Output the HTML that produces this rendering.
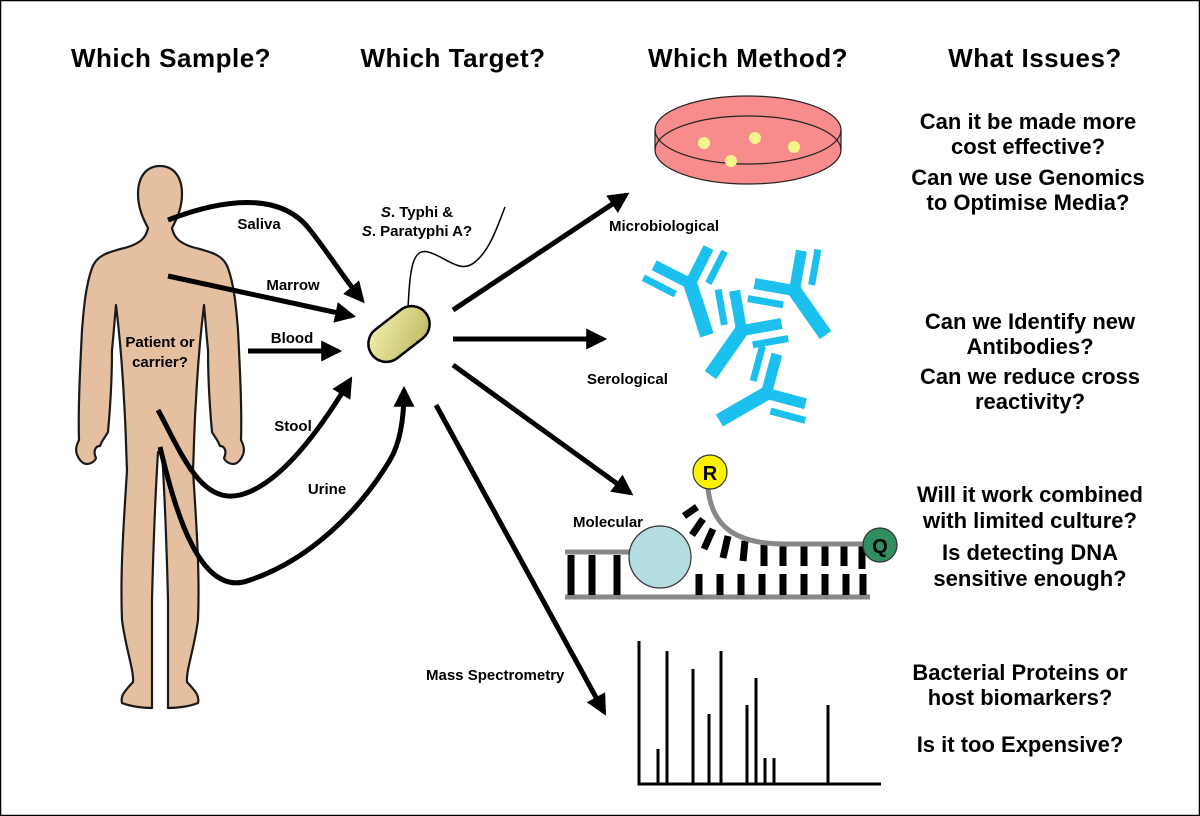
<!DOCTYPE html>
<html><head><meta charset="utf-8"><style>
html,body{margin:0;padding:0;background:#fff}
svg{display:block}
text{font-family:"Liberation Sans",Arial,sans-serif;font-weight:bold;fill:#000}
</style></head><body>
<svg width="1200" height="816" viewBox="0 0 1200 816" xmlns="http://www.w3.org/2000/svg">
<defs>
<marker id="ah" viewBox="0 0 10 10" refX="8" refY="5" markerWidth="4.2" markerHeight="4.2" orient="auto" markerUnits="strokeWidth"><path d="M0,0 L10,5 L0,10 z" fill="#000"/></marker>
<linearGradient id="bg" x1="0" y1="0" x2="1" y2="1"><stop offset="0" stop-color="#f2f0b0"/><stop offset="1" stop-color="#bdb860"/></linearGradient>
<g id="ab"><rect x="-7" y="0" width="14" height="55"/><g transform="rotate(-45)"><rect x="-6" y="-40" width="11" height="44"/><rect x="-20" y="-44" width="7" height="36"/></g><g transform="rotate(45)"><rect x="-5" y="-40" width="11" height="44"/><rect x="13" y="-44" width="7" height="36"/></g></g>
</defs>
<rect x="0.5" y="0.5" width="1199" height="815" fill="#fff" stroke="#000" stroke-width="1.5"/>
<g font-size="26" letter-spacing="0.5">
<text x="171" y="67" text-anchor="middle">Which Sample?</text>
<text x="453" y="67" text-anchor="middle">Which Target?</text>
<text x="748" y="67" text-anchor="middle">Which Method?</text>
<text x="1035" y="67" text-anchor="middle">What Issues?</text>
</g>
<!-- body -->
<path d="M160,166 C147,166 138,176 138,194 C138,210 145,222 148,228 C146,238 140,243 128,247 C110,252 97,254 92,268 C86,285 84,305 82,330 C80,370 78,410 79,440 C76,446 74,452 80,460 C86,468 95,462 96,458 C93,452 95,446 100,446 C102,440 106,436 108,432 C110,410 112,380 112,350 C114,330 115,315 116,305 C119,330 122,360 124,400 C126,430 126,450 127,470 C124,520 120,570 122,620 C126,650 134,670 133,682 C126,690 120,695 122,703 C132,707 145,708 152,708 L152,600 C153,560 155,500 158,452 L162,452 C165,500 167,560 168,600 L168,708 C175,708 188,707 198,703 C200,695 194,690 187,682 C186,670 194,650 198,620 C200,570 196,520 193,470 C194,450 194,430 196,400 C198,360 201,330 204,305 C205,315 206,330 208,350 C208,380 210,410 212,432 C214,436 218,440 220,446 C225,446 227,452 224,458 C225,462 234,468 240,460 C246,452 244,446 241,440 C242,410 240,370 238,330 C236,305 234,285 228,268 C223,254 210,252 192,247 C180,243 174,238 172,228 C175,222 182,210 182,194 C182,176 173,166 160,166 Z" fill="#e4c0a0" stroke="#1a1a1a" stroke-width="2.2" stroke-linejoin="round"/>
<g font-size="15" text-anchor="middle">
<text x="160" y="347">Patient or</text>
<text x="160" y="367">carrier?</text>
<text x="259" y="229">Saliva</text>
<text x="293" y="290">Marrow</text>
<text x="292" y="343">Blood</text>
<text x="293" y="431">Stool</text>
<text x="327" y="494">Urine</text>
</g>
<!-- incoming arrows -->
<g fill="none" stroke="#000" stroke-width="5">
<path d="M168,220 C220,200 280,190 310,230 C330,255 345,280 362,300" marker-end="url(#ah)"/>
<path d="M168,276 L352,316" marker-end="url(#ah)"/>
<path d="M248,351 L338,351" marker-end="url(#ah)"/>
<path d="M158,410 C180,450 200,505 240,495 C280,485 320,430 350,380" marker-end="url(#ah)"/>
<path d="M160,447 C175,510 200,600 250,580 C310,560 360,510 390,460 C402,440 404,410 404,390" marker-end="url(#ah)"/>
</g>
<!-- bacterium -->
<path d="M408,308 C410,270 412,248 428,252 C445,256 460,275 475,262 C490,250 498,225 505,207" fill="none" stroke="#000" stroke-width="1.5"/>
<rect x="365" y="316" width="68" height="36" rx="18" transform="rotate(-38 399 334)" fill="url(#bg)" stroke="#000" stroke-width="2.5"/>
<g font-size="15" text-anchor="middle">
<text x="417" y="217"><tspan font-style="italic">S</tspan>. Typhi &amp;</text>
<text x="417" y="236"><tspan font-style="italic">S</tspan>. Paratyphi A?</text>
</g>
<!-- outgoing arrows -->
<g fill="none" stroke="#000" stroke-width="5">
<path d="M453,310 L626,195" marker-end="url(#ah)"/>
<path d="M453,339 L603,339" marker-end="url(#ah)"/>
<path d="M453,365 L630,493" marker-end="url(#ah)"/>
<path d="M436,405 L604,712" marker-end="url(#ah)"/>
</g>
<g font-size="15">
<text x="609" y="231">Microbiological</text>
<text x="587" y="384">Serological</text>
<text x="573" y="527">Molecular</text>
<text x="426" y="680">Mass Spectrometry</text>
</g>
<!-- petri dish -->
<path d="M655,130 A93,34 0 0 1 841,130 L841,150 A93,34 0 0 1 655,150 Z" fill="#f88c8c"/>
<ellipse cx="748" cy="130" rx="93" ry="34" fill="none" stroke="#222" stroke-width="1.2"/>
<ellipse cx="748" cy="150" rx="93" ry="34" fill="none" stroke="#222" stroke-width="1.2"/>
<path d="M655,130 L655,150 M841,130 L841,150" stroke="#222" stroke-width="1.2"/>
<g fill="#f6f48a"><circle cx="704" cy="143" r="6"/><circle cx="755" cy="138" r="6"/><circle cx="794" cy="147" r="6"/><circle cx="731" cy="161" r="6"/></g>
<!-- antibodies -->
<g fill="#1cc0ee">
<use href="#ab" transform="translate(690,283) rotate(-18)"/>
<use href="#ab" transform="translate(794,290) rotate(-35)"/>
<use href="#ab" transform="translate(742,330) rotate(35)"/>
<use href="#ab" transform="translate(767,393) rotate(60)"/>
</g>
<!-- DNA -->
<line x1="565" y1="597" x2="870" y2="597" stroke="#888" stroke-width="5"/>
<line x1="565" y1="552" x2="640" y2="552" stroke="#888" stroke-width="5"/>
<g stroke="#000" stroke-width="7">
<line x1="571" y1="555" x2="571" y2="595"/><line x1="592" y1="555" x2="592" y2="595"/><line x1="617" y1="555" x2="617" y2="595"/>
<line x1="699" y1="574" x2="699" y2="595"/><line x1="720" y1="574" x2="720" y2="595"/><line x1="741" y1="574" x2="741" y2="595"/><line x1="762" y1="574" x2="762" y2="595"/><line x1="783" y1="574" x2="783" y2="595"/><line x1="804" y1="574" x2="804" y2="595"/><line x1="825" y1="574" x2="825" y2="595"/><line x1="846" y1="574" x2="846" y2="595"/><line x1="863" y1="574" x2="863" y2="595"/>
<line x1="764" y1="545" x2="764" y2="566"/><line x1="783" y1="545" x2="783" y2="566"/><line x1="804" y1="545" x2="804" y2="566"/><line x1="825" y1="545" x2="825" y2="566"/><line x1="844" y1="545" x2="844" y2="566"/><line x1="862" y1="545" x2="862" y2="569"/>
<line x1="745" y1="541" x2="743" y2="561"/><line x1="728" y1="536" x2="723" y2="558"/><line x1="713" y1="529" x2="704" y2="549"/><line x1="703" y1="519" x2="692" y2="535"/><line x1="697" y1="507" x2="684" y2="516"/>
</g>
<path d="M708,488 C712,530 740,545 790,544 L872,544" fill="none" stroke="#888" stroke-width="5"/>
<circle cx="660" cy="557" r="31" fill="#b4dde2" stroke="#333" stroke-width="1.2"/>
<circle cx="710" cy="472" r="17" fill="#fff200" stroke="#333" stroke-width="1.2"/>
<text x="710" y="480" font-size="20" text-anchor="middle">R</text>
<circle cx="880" cy="545" r="17" fill="#2f8f60" stroke="#333" stroke-width="1.2"/>
<text x="880" y="553" font-size="20" text-anchor="middle">Q</text>
<!-- mass spec -->
<g stroke="#000" stroke-width="3" fill="none">
<path d="M639,641 L639,784 L881,784"/>
<line x1="658" y1="749" x2="658" y2="784"/><line x1="667" y1="651" x2="667" y2="784"/><line x1="693" y1="669" x2="693" y2="784"/><line x1="709" y1="714" x2="709" y2="784"/><line x1="721" y1="651" x2="721" y2="784"/><line x1="747" y1="705" x2="747" y2="784"/><line x1="756" y1="678" x2="756" y2="784"/><line x1="765" y1="758" x2="765" y2="784"/><line x1="774" y1="758" x2="774" y2="784"/><line x1="828" y1="705" x2="828" y2="784"/>
</g>
<!-- issues -->
<g font-size="22" text-anchor="middle">
<text x="1028" y="129">Can it be made more</text>
<text x="1028" y="154">cost effective?</text>
<text x="1028" y="185">Can we use Genomics</text>
<text x="1028" y="210">to Optimise Media?</text>
<text x="1030" y="329">Can we Identify new</text>
<text x="1030" y="354">Antibodies?</text>
<text x="1030" y="384">Can we reduce cross</text>
<text x="1030" y="409">reactivity?</text>
<text x="1030" y="502">Will it work combined</text>
<text x="1030" y="528">with limited culture?</text>
<text x="1030" y="560">Is detecting DNA</text>
<text x="1030" y="586">sensitive enough?</text>
<text x="1020" y="680">Bacterial Proteins or</text>
<text x="1020" y="705">host biomarkers?</text>
<text x="1020" y="752">Is it too Expensive?</text>
</g>
</svg>
</body></html>
